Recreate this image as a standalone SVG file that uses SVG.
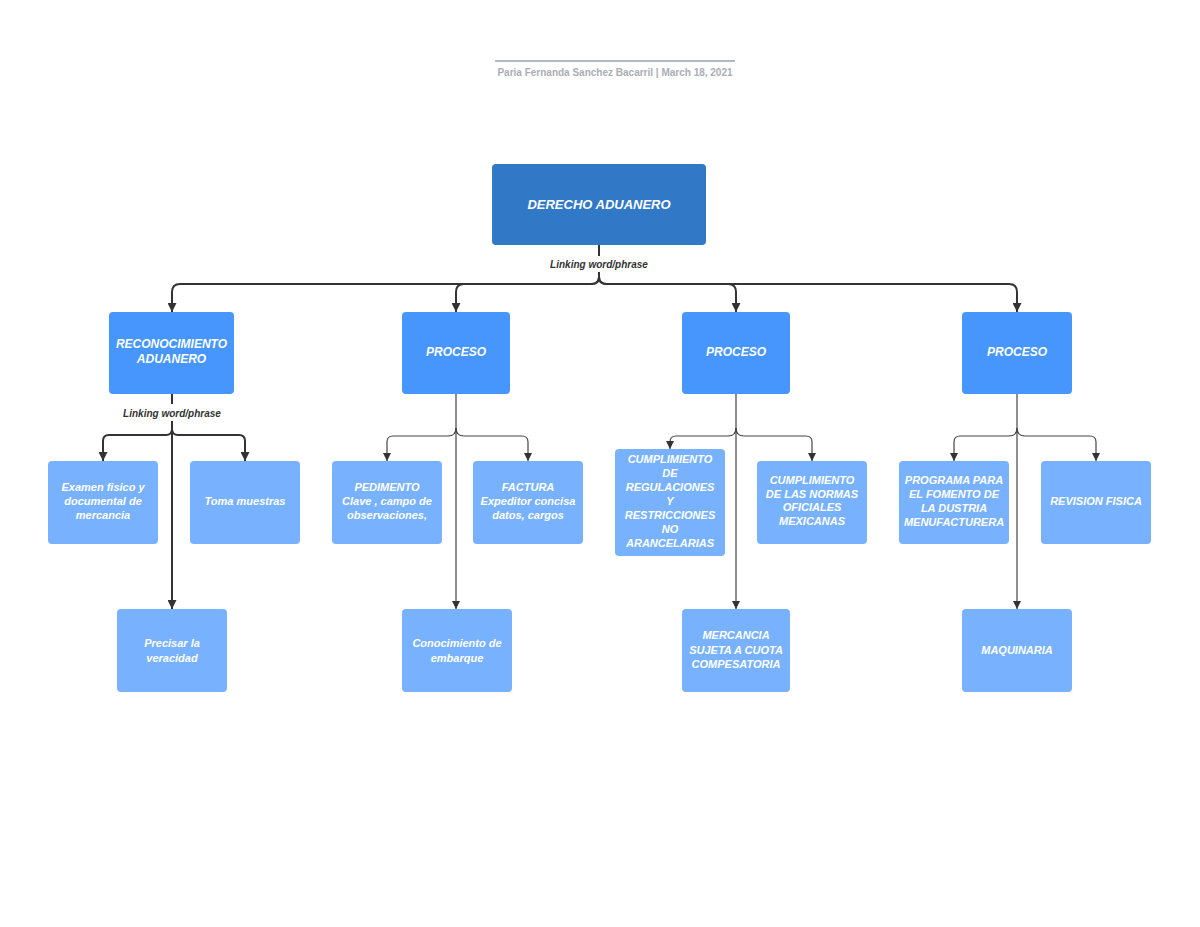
<svg xmlns="http://www.w3.org/2000/svg" width="1200" height="927" viewBox="0 0 1200 927">
<style>
.n0{fill:#3178c6}
.n1{fill:#4696fd}
.n2{fill:#78b2ff}
.t{font-family:"Liberation Sans",Arial,sans-serif;font-style:italic;font-weight:bold;fill:#fff;text-anchor:middle}
.t1{font-size:13px}
.t2{font-size:12px}
.t3{font-size:11px}
.lk{font-family:"Liberation Sans",Arial,sans-serif;font-style:italic;font-weight:bold;font-size:10px;fill:#333;text-anchor:middle}
.hd{font-family:"Liberation Sans",Arial,sans-serif;font-weight:bold;font-size:10px;fill:#a9adb5;text-anchor:middle}
.c1{fill:none;stroke:#333;stroke-width:2}
.c2{fill:none;stroke:#444;stroke-width:1.2}
</style>
<defs>
<marker id="a1" viewBox="0 0 10 10" refX="10" refY="5" markerWidth="10" markerHeight="9" orient="auto" markerUnits="userSpaceOnUse"><path d="M0,0 L10,5 L0,10 z" fill="#333"/></marker>
<marker id="a2" viewBox="0 0 10 10" refX="10" refY="5" markerWidth="9" markerHeight="8" orient="auto" markerUnits="userSpaceOnUse"><path d="M0,0 L10,5 L0,10 z" fill="#333"/></marker>
</defs>
<rect width="1200" height="927" fill="#fff"/>
<g id="header">
<line x1="495" y1="61" x2="735" y2="61" stroke="#b4b8c0" stroke-width="2"/>
<text class="hd" x="615" y="76">Paria Fernanda Sanchez Bacarril | March 18, 2021</text>
</g>
<g id="connectors">
<path class="c1" d="M599 245 V256 M599 272 V277"/>
<path class="c1" marker-end="url(#a1)" d="M599 277 Q599 284 591 284 H180 Q172 284 172 292 V312"/>
<path class="c1" marker-end="url(#a1)" d="M599 277 Q599 284 591 284 H464 Q456 284 456 292 V312"/>
<path class="c1" marker-end="url(#a1)" d="M599 277 Q599 284 607 284 H728 Q736 284 736 292 V312"/>
<path class="c1" marker-end="url(#a1)" d="M599 277 Q599 284 607 284 H1009 Q1017 284 1017 292 V312"/>
<text class="lk" x="599" y="268">Linking word/phrase</text>
<path class="c1" d="M172 394 V404 M172 421 V429"/>
<path class="c1" marker-end="url(#a1)" d="M172 429 Q172 435 166 435 H109 Q103 435 103 441 V461"/>
<path class="c1" marker-end="url(#a1)" d="M172 429 Q172 435 178 435 H239 Q245 435 245 441 V461"/>
<path class="c1" marker-end="url(#a1)" d="M172 429 V609"/>
<text class="lk" x="172" y="417">Linking word/phrase</text>
<path class="c2" marker-end="url(#a2)" d="M456 394 V609"/>
<path class="c2" marker-end="url(#a2)" d="M456 428 Q456 436 448 436 H393 Q387 436 387 442 V461"/>
<path class="c2" marker-end="url(#a2)" d="M456 428 Q456 436 464 436 H522 Q528 436 528 442 V461"/>
<path class="c2" marker-end="url(#a2)" d="M736 394 V609"/>
<path class="c2" marker-end="url(#a2)" d="M736 428 Q736 436 728 436 H676 Q670 436 670 442 V449"/>
<path class="c2" marker-end="url(#a2)" d="M736 428 Q736 436 744 436 H806 Q812 436 812 442 V461"/>
<path class="c2" marker-end="url(#a2)" d="M1017 394 V609"/>
<path class="c2" marker-end="url(#a2)" d="M1017 428 Q1017 436 1009 436 H960 Q954 436 954 442 V461"/>
<path class="c2" marker-end="url(#a2)" d="M1017 428 Q1017 436 1025 436 H1090 Q1096 436 1096 442 V461"/>
</g>
<g id="derecho"><rect class="n0" x="492" y="164" width="214" height="81" rx="4"/><text class="t t1" x="599" y="209">DERECHO ADUANERO</text></g>
<g id="reconocimiento"><rect class="n1" x="109" y="312" width="125" height="82" rx="4"/><text class="t t2" x="171.5" y="348">RECONOCIMIENTO</text><text class="t t2" x="171.5" y="363">ADUANERO</text></g>
<g id="proceso1"><rect class="n1" x="402" y="312" width="108" height="82" rx="4"/><text class="t t2" x="456" y="356">PROCESO</text></g>
<g id="proceso2"><rect class="n1" x="682" y="312" width="108" height="82" rx="4"/><text class="t t2" x="736" y="356">PROCESO</text></g>
<g id="proceso3"><rect class="n1" x="962" y="312" width="110" height="82" rx="4"/><text class="t t2" x="1017" y="356">PROCESO</text></g>
<g id="examen"><rect class="n2" x="48" y="461" width="110" height="83" rx="4"/><text class="t t3" x="103" y="491">Examen fisico y</text><text class="t t3" x="103" y="505">documental de</text><text class="t t3" x="103" y="519">mercancia</text></g>
<g id="toma"><rect class="n2" x="190" y="461" width="110" height="83" rx="4"/><text class="t t3" x="245" y="505">Toma muestras</text></g>
<g id="precisar"><rect class="n2" x="117" y="609" width="110" height="83" rx="4"/><text class="t t3" x="172" y="647">Precisar la</text><text class="t t3" x="172" y="662">veracidad</text></g>
<g id="pedimento"><rect class="n2" x="332" y="461" width="110" height="83" rx="4"/><text class="t t3" x="387" y="491">PEDIMENTO</text><text class="t t3" x="387" y="505">Clave , campo de</text><text class="t t3" x="387" y="519">observaciones,</text></g>
<g id="factura"><rect class="n2" x="473" y="461" width="110" height="83" rx="4"/><text class="t t3" x="528" y="491">FACTURA</text><text class="t t3" x="528" y="505">Expeditor concisa</text><text class="t t3" x="528" y="519">datos, cargos</text></g>
<g id="conocimiento"><rect class="n2" x="402" y="609" width="110" height="83" rx="4"/><text class="t t3" x="457" y="647">Conocimiento de</text><text class="t t3" x="457" y="662">embarque</text></g>
<g id="regulaciones"><rect class="n2" x="615" y="449" width="110" height="107" rx="4"/><text class="t t3" x="670" y="463">CUMPLIMIENTO</text><text class="t t3" x="670" y="477">DE</text><text class="t t3" x="670" y="491">REGULACIONES</text><text class="t t3" x="670" y="505">Y</text><text class="t t3" x="670" y="519">RESTRICCIONES</text><text class="t t3" x="670" y="533">NO</text><text class="t t3" x="670" y="547">ARANCELARIAS</text></g>
<g id="normas"><rect class="n2" x="757" y="461" width="110" height="83" rx="4"/><text class="t t3" x="812" y="484">CUMPLIMIENTO</text><text class="t t3" x="812" y="498">DE LAS NORMAS</text><text class="t t3" x="812" y="511">OFICIALES</text><text class="t t3" x="812" y="525">MEXICANAS</text></g>
<g id="mercancia"><rect class="n2" x="682" y="609" width="108" height="83" rx="4"/><text class="t t3" x="736" y="639">MERCANCIA</text><text class="t t3" x="736" y="654">SUJETA A CUOTA</text><text class="t t3" x="736" y="668">COMPESATORIA</text></g>
<g id="programa"><rect class="n2" x="899" y="461" width="110" height="83" rx="4"/><text class="t t3" x="954" y="484">PROGRAMA PARA</text><text class="t t3" x="954" y="498">EL FOMENTO DE</text><text class="t t3" x="954" y="512">LA DUSTRIA</text><text class="t t3" x="954" y="526">MENUFACTURERA</text></g>
<g id="revision"><rect class="n2" x="1041" y="461" width="110" height="83" rx="4"/><text class="t t3" x="1096" y="505">REVISION FISICA</text></g>
<g id="maquinaria"><rect class="n2" x="962" y="609" width="110" height="83" rx="4"/><text class="t t3" x="1017" y="654">MAQUINARIA</text></g>
</svg>
